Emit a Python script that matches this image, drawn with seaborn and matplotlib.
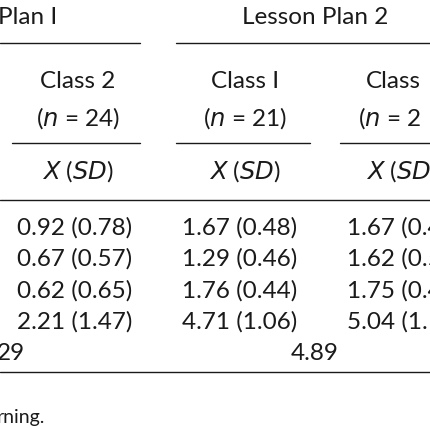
import seaborn as sns
import matplotlib
matplotlib.use('Agg')
import matplotlib.pyplot as plt

sns.set_theme(style="white")
plt.rcParams['font.family'] = ['Lato', 'DejaVu Sans']

# table content (cropped view)
groups = ["Plan I", "Lesson Plan 2"]
classes = ["Class 2", "Class I", "Class"]
ns = ["24", "21", "2"]
col_c2 = ["0.92 (0.78)", "0.67 (0.57)", "0.62 (0.65)", "2.21 (1.47)"]
col_c1 = ["1.67 (0.48)", "1.29 (0.46)", "1.76 (0.44)", "4.71 (1.06)"]
col_c3 = ["1.67 (0.4", "1.62 (0.5", "1.75 (0.4", "5.04 (1."]
totals = ["29", "4.89"]
footnote = "rning."

fig = plt.figure(figsize=(4.3, 4.3), dpi=100)
W = H = 430.0
fs = 17.5

def t(x, y, s, ha="center", size=fs):
    fig.text(x / W, 1 - y / H, s, ha=ha, va="center", fontsize=size, color="#1a1a1a")

def hline(x0, x1, y, lw=1.0):
    fig.add_artist(plt.Line2D([x0 / W, x1 / W], [1 - y / H, 1 - y / H], color="#1a1a1a", lw=lw))

t(-2, 17, groups[0], ha="left")
t(315, 17, groups[1])
hline(0, 140, 43)
hline(176, 430, 43)

# header columns: first two centred, third cut at right edge
t(78, 82, classes[0])
t(245, 82, classes[1])
t(366, 82, classes[2], ha="left")
t(78, 118, r"($\it{n}$ = %s)" % ns[0])
t(245, 118, r"($\it{n}$ = %s)" % ns[1])
t(358, 118, r"($\it{n}$ = %s" % ns[2], ha="left")
hline(12, 140, 143)
hline(176, 310, 143)
hline(340, 430, 143)

t(78, 171, r"$\it{X}$ ($\it{SD}$)")
t(245, 171, r"$\it{X}$ ($\it{SD}$)")
t(366, 171, r"$\it{X}$ ($\it{SD}$", ha="left")
hline(0, 430, 200)

row_y = [228, 259, 291, 322]
for y, a, b, c in zip(row_y, col_c2, col_c1, col_c3):
    t(75, y, a)
    t(240, y, b)
    t(347, y, c, ha="left")
t(-3, 354, totals[0], ha="left")
t(315, 354, totals[1])
hline(0, 430, 372)
t(-3, 418, footnote, ha="left", size=14)

fig.savefig("out.png", dpi=100, facecolor="white")
